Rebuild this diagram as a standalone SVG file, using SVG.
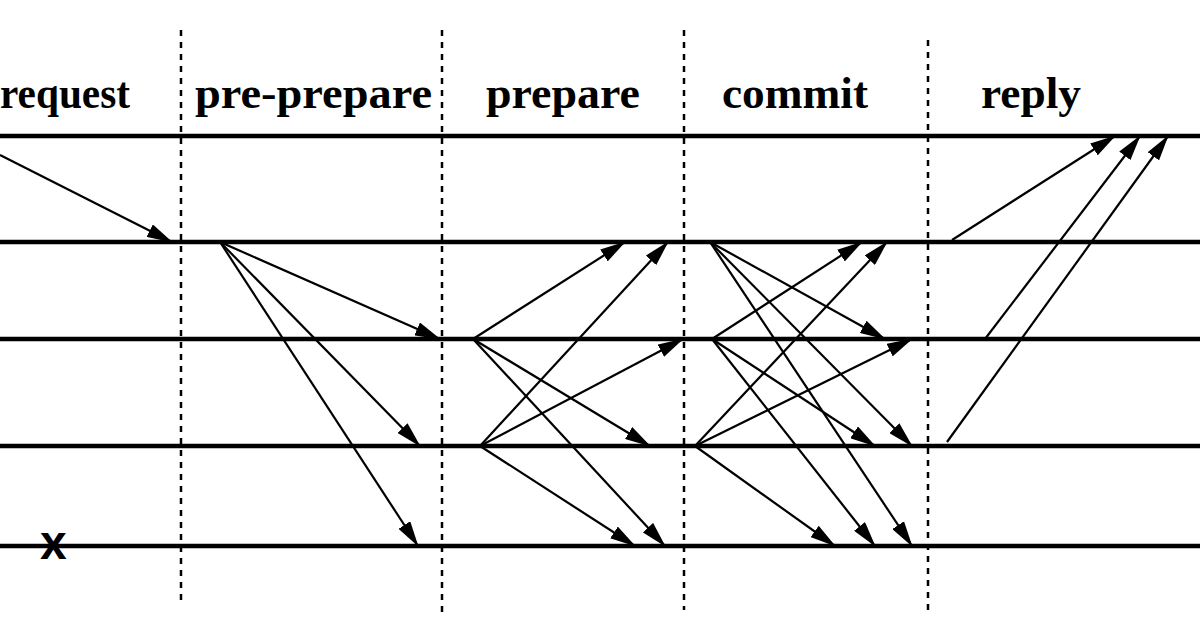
<svg xmlns="http://www.w3.org/2000/svg" width="1200" height="630" viewBox="0 0 1200 630">
<style>
.t{font-family:"Liberation Serif",serif;font-weight:bold;font-size:44px;fill:#000}
.h{stroke:#000;stroke-width:4.5}
.d{stroke:#000;stroke-width:2.5;stroke-dasharray:6 6}
.a{stroke:#000;stroke-width:2.2;marker-end:url(#m)}
</style>
<defs><marker id="m" markerWidth="26" markerHeight="14" refX="25" refY="7" orient="auto" markerUnits="userSpaceOnUse" viewBox="0 0 26 14"><path d="M0,0L26,7L0,14z"/></marker></defs>
<rect width="1200" height="630" fill="#fff"/>
<g id="labels">
<text class="t" x="0" y="108" textLength="130" lengthAdjust="spacingAndGlyphs">request</text>
<text class="t" x="195" y="108" textLength="237" lengthAdjust="spacingAndGlyphs">pre-prepare</text>
<text class="t" x="486" y="108" textLength="154" lengthAdjust="spacingAndGlyphs">prepare</text>
<text class="t" x="722" y="108" textLength="146" lengthAdjust="spacingAndGlyphs">commit</text>
<text class="t" x="981" y="108" textLength="100" lengthAdjust="spacingAndGlyphs">reply</text>
<text x="40" y="559" style="font-family:'Liberation Sans',sans-serif;font-weight:bold;font-size:48px">x</text>
</g>
<g id="lines">
<line class="h" x1="0" y1="136" x2="1200" y2="136"/>
<line class="h" x1="0" y1="242" x2="1200" y2="242"/>
<line class="h" x1="0" y1="339" x2="1200" y2="339"/>
<line class="h" x1="0" y1="446" x2="1200" y2="446"/>
<line class="h" x1="0" y1="546" x2="1200" y2="546"/>
<line class="d" x1="181" y1="30" x2="181" y2="605"/>
<line class="d" x1="442" y1="30" x2="442" y2="612"/>
<line class="d" x1="684" y1="30" x2="684" y2="610"/>
<line class="d" x1="928" y1="40" x2="928" y2="612"/>
</g>
<g id="connectors">
<line class="a" x1="0" y1="155" x2="172" y2="242"/>
<line class="a" x1="220" y1="242" x2="440" y2="339"/>
<line class="a" x1="220" y1="242" x2="420" y2="446"/>
<line class="a" x1="220" y1="242" x2="418" y2="546"/>
<line class="a" x1="473" y1="339" x2="625" y2="242"/>
<line class="a" x1="473" y1="339" x2="650" y2="446"/>
<line class="a" x1="473" y1="339" x2="665" y2="546"/>
<line class="a" x1="480" y1="446" x2="668" y2="242"/>
<line class="a" x1="480" y1="446" x2="683" y2="339"/>
<line class="a" x1="480" y1="446" x2="635" y2="546"/>
<line class="a" x1="710" y1="242" x2="885" y2="339"/>
<line class="a" x1="710" y1="242" x2="912" y2="446"/>
<line class="a" x1="710" y1="242" x2="912" y2="546"/>
<line class="a" x1="712" y1="339" x2="862" y2="242"/>
<line class="a" x1="712" y1="339" x2="875" y2="446"/>
<line class="a" x1="712" y1="339" x2="875" y2="546"/>
<line class="a" x1="695" y1="446" x2="887" y2="242"/>
<line class="a" x1="695" y1="446" x2="912" y2="339"/>
<line class="a" x1="695" y1="446" x2="835" y2="546"/>
<line class="a" x1="952" y1="240" x2="1115" y2="136"/>
<line class="a" x1="985" y1="339" x2="1140" y2="136"/>
<line class="a" x1="947" y1="442" x2="1168" y2="136"/>
</g>
</svg>
